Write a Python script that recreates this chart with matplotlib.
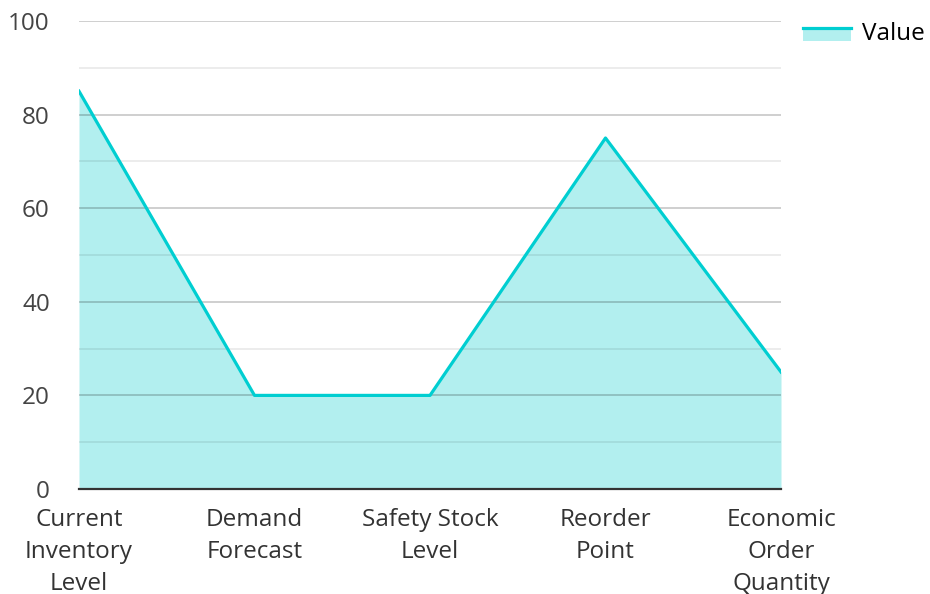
import numpy as np
import matplotlib.pyplot as plt
import matplotlib.ticker as ticker
from matplotlib.patches import Rectangle
from matplotlib.lines import Line2D
from matplotlib.legend_handler import HandlerBase

categories = ["Current\nInventory\nLevel", "Demand\nForecast", "Safety Stock\nLevel",
              "Reorder\nPoint", "Economic\nOrder\nQuantity"]
values = [85, 20, 20, 75, 25]

line_color = "#00CED1"
fill_color = "#B2EFEF"


class AreaHandler(HandlerBase):
    # line on top edge, filled block under it
    def create_artists(self, legend, orig_handle, xdescent, ydescent,
                       width, height, fontsize, trans):
        top = height * 0.7
        rect = Rectangle((-xdescent, -ydescent - height * 0.05), width, top + height * 0.05,
                         facecolor=fill_color, edgecolor='none', transform=trans)
        ln = Line2D([-xdescent, -xdescent + width], [top - ydescent] * 2,
                    color=line_color, linewidth=2.3, transform=trans)
        return [rect, ln]


plt.rcParams['font.family'] = ['Open Sans', 'DejaVu Sans']

fig = plt.figure(figsize=(9.3, 5.94), dpi=100)
ax = fig.add_axes([79/930, 1 - 489/594, (781-79)/930, (489-21)/594])

x = np.arange(len(categories))
ax.fill_between(x, values, 0, color=fill_color, linewidth=0, zorder=1)
ax.plot(x, values, color=line_color, linewidth=2.3, zorder=3)

ax.set_xlim(0, len(categories) - 1)
ax.set_ylim(0, 100)
ax.yaxis.set_major_locator(ticker.MultipleLocator(20))
ax.yaxis.set_minor_locator(ticker.MultipleLocator(10))
ax.grid(axis='y', which='major', color='black', alpha=0.22, linewidth=1.2, zorder=2)
ax.grid(axis='y', which='minor', color='black', alpha=0.09, linewidth=1.2, zorder=2)
ax.set_axisbelow(False)

for s in ['top', 'right', 'left']:
    ax.spines[s].set_visible(False)
ax.spines['bottom'].set_color('#333333')
ax.spines['bottom'].set_linewidth(1.6)
ax.spines['bottom'].set_zorder(4)

ax.set_xticks(x)
ax.set_xticklabels(categories, fontsize=17.5, color='#333333', linespacing=1.42)
ax.tick_params(axis='x', length=0, pad=14)
ax.tick_params(axis='y', which='both', length=0, labelsize=17.5, labelcolor='#444444', pad=21)

fig.legend([object()], ["Value"], loc='upper right', bbox_to_anchor=(1.0, 1 - 17/594),
           frameon=False, fontsize=17.5, handlelength=2.0, handletextpad=0.45,
           borderpad=0.1, borderaxespad=0.1,
           handler_map={object: AreaHandler()})

fig.savefig("out.png", dpi=100)
